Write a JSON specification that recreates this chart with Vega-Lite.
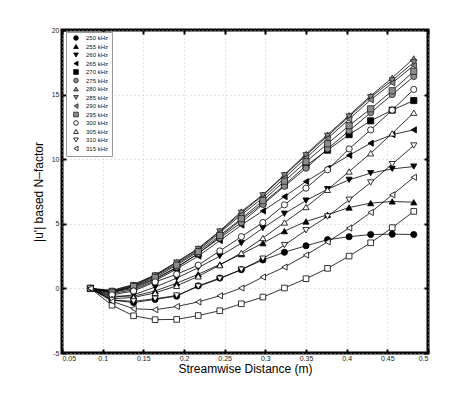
{
  "$schema": "https://vega.github.io/schema/vega-lite/v6.json",
  "width": 366,
  "height": 323,
  "autosize": {"type": "none"},
  "padding": {"left": 62, "top": 30, "right": 46, "bottom": 44},
  "background": "white",
  "config": {
    "font": "Liberation Sans",
    "view": {"stroke": "black", "strokeWidth": 3},
    "axis": {
      "grid": true,
      "gridColor": "#bbbbbb",
      "gridDash": [1, 3],
      "gridWidth": 0.8,
      "domain": false,
      "tickColor": "black",
      "tickWidth": 2,
      "tickSize": -4,
      "labelFontSize": 7,
      "labelColor": "#222",
      "titleFontWeight": "normal",
      "titleColor": "black"
    },
    "legend": {
      "labelFontSize": 6,
      "labelColor": "#111",
      "symbolSize": 22,
      "rowPadding": 0.5,
      "padding": 3,
      "strokeColor": "#999",
      "fillColor": "white",
      "labelOffset": 7,
      "symbolOffset": 4,
      "symbolStrokeWidth": 0.8
    }
  },
  "data": {
    "values": [
      {"f":"250 kHz","x":0.085,"y":0},{"f":"250 kHz","x":0.1115,"y":-0.9},{"f":"250 kHz","x":0.138,"y":-1.1},{"f":"250 kHz","x":0.1645,"y":-0.85},{"f":"250 kHz","x":0.191,"y":-0.6},{"f":"250 kHz","x":0.2175,"y":0.2},{"f":"250 kHz","x":0.244,"y":0.8},{"f":"250 kHz","x":0.2705,"y":1.45},{"f":"250 kHz","x":0.297,"y":2.2},{"f":"250 kHz","x":0.3235,"y":2.8},{"f":"250 kHz","x":0.35,"y":3.3},{"f":"250 kHz","x":0.3765,"y":3.77},{"f":"250 kHz","x":0.403,"y":4.0},{"f":"250 kHz","x":0.4295,"y":4.17},{"f":"250 kHz","x":0.456,"y":4.2},{"f":"250 kHz","x":0.4825,"y":4.17},
      {"f":"255 kHz","x":0.085,"y":0},{"f":"255 kHz","x":0.1115,"y":-0.6},{"f":"255 kHz","x":0.138,"y":-0.6},{"f":"255 kHz","x":0.1645,"y":-0.2},{"f":"255 kHz","x":0.191,"y":0.4},{"f":"255 kHz","x":0.2175,"y":1.1},{"f":"255 kHz","x":0.244,"y":1.85},{"f":"255 kHz","x":0.2705,"y":2.65},{"f":"255 kHz","x":0.297,"y":3.5},{"f":"255 kHz","x":0.3235,"y":4.43},{"f":"255 kHz","x":0.35,"y":5.18},{"f":"255 kHz","x":0.3765,"y":5.7},{"f":"255 kHz","x":0.403,"y":6.26},{"f":"255 kHz","x":0.4295,"y":6.6},{"f":"255 kHz","x":0.456,"y":6.73},{"f":"255 kHz","x":0.4825,"y":6.67},
      {"f":"260 kHz","x":0.085,"y":0},{"f":"260 kHz","x":0.1115,"y":-0.7},{"f":"260 kHz","x":0.138,"y":-0.5},{"f":"260 kHz","x":0.1645,"y":0.1},{"f":"260 kHz","x":0.191,"y":0.8},{"f":"260 kHz","x":0.2175,"y":1.6},{"f":"260 kHz","x":0.244,"y":2.5},{"f":"260 kHz","x":0.2705,"y":3.5},{"f":"260 kHz","x":0.297,"y":4.67},{"f":"260 kHz","x":0.3235,"y":5.78},{"f":"260 kHz","x":0.35,"y":6.8},{"f":"260 kHz","x":0.3765,"y":7.68},{"f":"260 kHz","x":0.403,"y":8.4},{"f":"260 kHz","x":0.4295,"y":8.92},{"f":"260 kHz","x":0.456,"y":9.25},{"f":"260 kHz","x":0.4825,"y":9.43},
      {"f":"265 kHz","x":0.085,"y":0},{"f":"265 kHz","x":0.1115,"y":-0.4},{"f":"265 kHz","x":0.138,"y":-0.1},{"f":"265 kHz","x":0.1645,"y":0.6},{"f":"265 kHz","x":0.191,"y":1.5},{"f":"265 kHz","x":0.2175,"y":2.5},{"f":"265 kHz","x":0.244,"y":3.7},{"f":"265 kHz","x":0.2705,"y":4.9},{"f":"265 kHz","x":0.297,"y":6.0},{"f":"265 kHz","x":0.3235,"y":7.1},{"f":"265 kHz","x":0.35,"y":8.27},{"f":"265 kHz","x":0.3765,"y":9.3},{"f":"265 kHz","x":0.403,"y":10.3},{"f":"265 kHz","x":0.4295,"y":11.24},{"f":"265 kHz","x":0.456,"y":11.9},{"f":"265 kHz","x":0.4825,"y":12.27},
      {"f":"270 kHz","x":0.085,"y":0},{"f":"270 kHz","x":0.1115,"y":-0.3},{"f":"270 kHz","x":0.138,"y":0.0},{"f":"270 kHz","x":0.1645,"y":0.7},{"f":"270 kHz","x":0.191,"y":1.6},{"f":"270 kHz","x":0.2175,"y":2.7},{"f":"270 kHz","x":0.244,"y":4.0},{"f":"270 kHz","x":0.2705,"y":5.3},{"f":"270 kHz","x":0.297,"y":6.6},{"f":"270 kHz","x":0.3235,"y":8.0},{"f":"270 kHz","x":0.35,"y":9.5},{"f":"270 kHz","x":0.3765,"y":10.7},{"f":"270 kHz","x":0.403,"y":11.9},{"f":"270 kHz","x":0.4295,"y":12.97},{"f":"270 kHz","x":0.456,"y":13.8},{"f":"270 kHz","x":0.4825,"y":14.54},
      {"f":"275 kHz","x":0.085,"y":0},{"f":"275 kHz","x":0.1115,"y":-0.3},{"f":"275 kHz","x":0.138,"y":0.1},{"f":"275 kHz","x":0.1645,"y":0.75},{"f":"275 kHz","x":0.191,"y":1.65},{"f":"275 kHz","x":0.2175,"y":2.7},{"f":"275 kHz","x":0.244,"y":3.9},{"f":"275 kHz","x":0.2705,"y":5.1},{"f":"275 kHz","x":0.297,"y":6.5},{"f":"275 kHz","x":0.3235,"y":7.9},{"f":"275 kHz","x":0.35,"y":9.3},{"f":"275 kHz","x":0.3765,"y":10.8},{"f":"275 kHz","x":0.403,"y":12.2},{"f":"275 kHz","x":0.4295,"y":13.6},{"f":"275 kHz","x":0.456,"y":15.0},{"f":"275 kHz","x":0.4825,"y":16.4},
      {"f":"280 kHz","x":0.085,"y":0},{"f":"280 kHz","x":0.1115,"y":-0.15},{"f":"280 kHz","x":0.138,"y":0.3},{"f":"280 kHz","x":0.1645,"y":1.05},{"f":"280 kHz","x":0.191,"y":2.05},{"f":"280 kHz","x":0.2175,"y":3.1},{"f":"280 kHz","x":0.244,"y":4.45},{"f":"280 kHz","x":0.2705,"y":5.95},{"f":"280 kHz","x":0.297,"y":7.25},{"f":"280 kHz","x":0.3235,"y":8.8},{"f":"280 kHz","x":0.35,"y":10.4},{"f":"280 kHz","x":0.3765,"y":11.9},{"f":"280 kHz","x":0.403,"y":13.4},{"f":"280 kHz","x":0.4295,"y":14.9},{"f":"280 kHz","x":0.456,"y":16.3},{"f":"280 kHz","x":0.4825,"y":17.8},
      {"f":"285 kHz","x":0.085,"y":0},{"f":"285 kHz","x":0.1115,"y":-0.2},{"f":"285 kHz","x":0.138,"y":0.25},{"f":"285 kHz","x":0.1645,"y":1.0},{"f":"285 kHz","x":0.191,"y":2.0},{"f":"285 kHz","x":0.2175,"y":3.05},{"f":"285 kHz","x":0.244,"y":4.4},{"f":"285 kHz","x":0.2705,"y":5.85},{"f":"285 kHz","x":0.297,"y":7.2},{"f":"285 kHz","x":0.3235,"y":8.75},{"f":"285 kHz","x":0.35,"y":10.3},{"f":"285 kHz","x":0.3765,"y":11.8},{"f":"285 kHz","x":0.403,"y":13.3},{"f":"285 kHz","x":0.4295,"y":14.8},{"f":"285 kHz","x":0.456,"y":16.1},{"f":"285 kHz","x":0.4825,"y":17.5},
      {"f":"290 kHz","x":0.085,"y":0},{"f":"290 kHz","x":0.1115,"y":-0.25},{"f":"290 kHz","x":0.138,"y":0.2},{"f":"290 kHz","x":0.1645,"y":0.95},{"f":"290 kHz","x":0.191,"y":1.9},{"f":"290 kHz","x":0.2175,"y":2.95},{"f":"290 kHz","x":0.244,"y":4.3},{"f":"290 kHz","x":0.2705,"y":5.7},{"f":"290 kHz","x":0.297,"y":7.0},{"f":"290 kHz","x":0.3235,"y":8.55},{"f":"290 kHz","x":0.35,"y":10.1},{"f":"290 kHz","x":0.3765,"y":11.6},{"f":"290 kHz","x":0.403,"y":13.1},{"f":"290 kHz","x":0.4295,"y":14.6},{"f":"290 kHz","x":0.456,"y":15.9},{"f":"290 kHz","x":0.4825,"y":17.25},
      {"f":"295 kHz","x":0.085,"y":0},{"f":"295 kHz","x":0.1115,"y":-0.3},{"f":"295 kHz","x":0.138,"y":0.15},{"f":"295 kHz","x":0.1645,"y":0.85},{"f":"295 kHz","x":0.191,"y":1.8},{"f":"295 kHz","x":0.2175,"y":2.85},{"f":"295 kHz","x":0.244,"y":4.1},{"f":"295 kHz","x":0.2705,"y":5.4},{"f":"295 kHz","x":0.297,"y":6.8},{"f":"295 kHz","x":0.3235,"y":8.3},{"f":"295 kHz","x":0.35,"y":9.8},{"f":"295 kHz","x":0.3765,"y":11.2},{"f":"295 kHz","x":0.403,"y":12.6},{"f":"295 kHz","x":0.4295,"y":13.9},{"f":"295 kHz","x":0.456,"y":15.3},{"f":"295 kHz","x":0.4825,"y":16.8},
      {"f":"300 kHz","x":0.085,"y":0},{"f":"300 kHz","x":0.1115,"y":-0.5},{"f":"300 kHz","x":0.138,"y":-0.2},{"f":"300 kHz","x":0.1645,"y":0.5},{"f":"300 kHz","x":0.191,"y":1.1},{"f":"300 kHz","x":0.2175,"y":1.8},{"f":"300 kHz","x":0.244,"y":2.9},{"f":"300 kHz","x":0.2705,"y":4.0},{"f":"300 kHz","x":0.297,"y":5.1},{"f":"300 kHz","x":0.3235,"y":6.47},{"f":"300 kHz","x":0.35,"y":7.76},{"f":"300 kHz","x":0.3765,"y":9.18},{"f":"300 kHz","x":0.403,"y":10.8},{"f":"300 kHz","x":0.4295,"y":12.27},{"f":"300 kHz","x":0.456,"y":13.8},{"f":"300 kHz","x":0.4825,"y":15.4},
      {"f":"305 kHz","x":0.085,"y":0},{"f":"305 kHz","x":0.1115,"y":-0.8},{"f":"305 kHz","x":0.138,"y":-0.7},{"f":"305 kHz","x":0.1645,"y":-0.35},{"f":"305 kHz","x":0.191,"y":0.2},{"f":"305 kHz","x":0.2175,"y":0.93},{"f":"305 kHz","x":0.244,"y":1.8},{"f":"305 kHz","x":0.2705,"y":2.75},{"f":"305 kHz","x":0.297,"y":3.9},{"f":"305 kHz","x":0.3235,"y":5.1},{"f":"305 kHz","x":0.35,"y":6.3},{"f":"305 kHz","x":0.3765,"y":7.63},{"f":"305 kHz","x":0.403,"y":9.05},{"f":"305 kHz","x":0.4295,"y":10.46},{"f":"305 kHz","x":0.456,"y":12.0},{"f":"305 kHz","x":0.4825,"y":13.6},
      {"f":"310 kHz","x":0.085,"y":0},{"f":"310 kHz","x":0.1115,"y":-0.9},{"f":"310 kHz","x":0.138,"y":-1.0},{"f":"310 kHz","x":0.1645,"y":-0.8},{"f":"310 kHz","x":0.191,"y":-0.55},{"f":"310 kHz","x":0.2175,"y":0.15},{"f":"310 kHz","x":0.244,"y":0.75},{"f":"310 kHz","x":0.2705,"y":1.45},{"f":"310 kHz","x":0.297,"y":2.3},{"f":"310 kHz","x":0.3235,"y":3.35},{"f":"310 kHz","x":0.35,"y":4.5},{"f":"310 kHz","x":0.3765,"y":5.57},{"f":"310 kHz","x":0.403,"y":6.86},{"f":"310 kHz","x":0.4295,"y":8.2},{"f":"310 kHz","x":0.456,"y":9.62},{"f":"310 kHz","x":0.4825,"y":11.06},
      {"f":"315 kHz","x":0.085,"y":0},{"f":"315 kHz","x":0.1115,"y":-1.0},{"f":"315 kHz","x":0.138,"y":-1.57},{"f":"315 kHz","x":0.1645,"y":-1.65},{"f":"315 kHz","x":0.191,"y":-1.4},{"f":"315 kHz","x":0.2175,"y":-1.05},{"f":"315 kHz","x":0.244,"y":-0.57},{"f":"315 kHz","x":0.2705,"y":0.03},{"f":"315 kHz","x":0.297,"y":0.88},{"f":"315 kHz","x":0.3235,"y":1.65},{"f":"315 kHz","x":0.35,"y":2.58},{"f":"315 kHz","x":0.3765,"y":3.6},{"f":"315 kHz","x":0.403,"y":4.67},{"f":"315 kHz","x":0.4295,"y":5.88},{"f":"315 kHz","x":0.456,"y":7.24},{"f":"315 kHz","x":0.4825,"y":8.6},
      {"f":"320 kHz","x":0.085,"y":0},{"f":"320 kHz","x":0.1115,"y":-1.3},{"f":"320 kHz","x":0.138,"y":-2.12},{"f":"320 kHz","x":0.1645,"y":-2.42},{"f":"320 kHz","x":0.191,"y":-2.4},{"f":"320 kHz","x":0.2175,"y":-2.1},{"f":"320 kHz","x":0.244,"y":-1.73},{"f":"320 kHz","x":0.2705,"y":-1.19},{"f":"320 kHz","x":0.297,"y":-0.67},{"f":"320 kHz","x":0.3235,"y":0.03},{"f":"320 kHz","x":0.35,"y":0.75},{"f":"320 kHz","x":0.3765,"y":1.55},{"f":"320 kHz","x":0.403,"y":2.5},{"f":"320 kHz","x":0.4295,"y":3.53},{"f":"320 kHz","x":0.456,"y":4.7},{"f":"320 kHz","x":0.4825,"y":5.96}
    ]
  },
  "layer": [
    {
      "mark": {"type": "line", "color": "black", "strokeWidth": 0.8},
      "encoding": {
        "x": {"field": "x", "type": "quantitative", "scale": {"domain": [0.05, 0.5], "nice": false},
          "axis": {"orient": "bottom", "values": [0.05,0.1,0.15,0.2,0.25,0.3,0.35,0.4,0.45,0.5], "format": "~g", "labelPadding": 5, "title": "Streamwise Distance (m)", "titleFontSize": 12, "titlePadding": 2}},
        "y": {"field": "y", "type": "quantitative", "scale": {"domain": [-5, 20], "nice": false},
          "axis": {"orient": "left", "values": [-5,0,5,10,15,20], "labelExpr": "datum.value < 0 ? '-' + abs(datum.value) : '' + datum.value", "labelPadding": 7, "title": "|u'| based N\u2013factor", "titleFontSize": 12, "titlePadding": 6}},
        "detail": {"field": "f"}
      }
    },
    {
      "transform": [{"filter": "datum.f == '320 kHz'"}],
      "mark": {"type": "point", "shape": "square", "filled": true, "fill": "white", "stroke": "black", "strokeWidth": 0.8, "size": 32, "opacity": 1},
      "encoding": {
        "x": {"field": "x", "type": "quantitative", "axis": {"orient": "top", "values": [0.05,0.1,0.15,0.2,0.25,0.3,0.35,0.4,0.45,0.5], "labels": false, "title": null, "grid": false}},
        "y": {"field": "y", "type": "quantitative", "axis": {"orient": "right", "values": [-5,0,5,10,15,20], "labels": false, "title": null, "grid": false}}
      }
    },
    {
      "transform": [{"filter": "datum.f != '320 kHz'"}],
      "mark": {"type": "point", "filled": true, "strokeWidth": 0.8, "size": 38, "opacity": 1},
      "encoding": {
        "x": {"field": "x", "type": "quantitative", "axis": null},
        "y": {"field": "y", "type": "quantitative", "axis": null},
        "shape": {"field": "f", "type": "nominal",
          "scale": {"domain": ["250 kHz","255 kHz","260 kHz","265 kHz","270 kHz","275 kHz","280 kHz","285 kHz","290 kHz","295 kHz","300 kHz","305 kHz","310 kHz","315 kHz"],
            "range": ["circle","triangle-up","triangle-down","triangle-left","square","circle","triangle-up","triangle-down","triangle-left","square","circle","triangle-up","triangle-down","triangle-left"]},
          "legend": {"title": null, "orient": "none", "legendX": 4, "legendY": 2}},
        "fill": {"field": "f", "type": "nominal",
          "scale": {"domain": ["250 kHz","255 kHz","260 kHz","265 kHz","270 kHz","275 kHz","280 kHz","285 kHz","290 kHz","295 kHz","300 kHz","305 kHz","310 kHz","315 kHz"],
            "range": ["black","black","black","black","black","#8c8c8c","#8c8c8c","#8c8c8c","#8c8c8c","#8c8c8c","white","white","white","white"]},
          "legend": {"title": null, "orient": "none", "legendX": 4, "legendY": 2}},
        "stroke": {"field": "f", "type": "nominal",
          "scale": {"domain": ["250 kHz","255 kHz","260 kHz","265 kHz","270 kHz","275 kHz","280 kHz","285 kHz","290 kHz","295 kHz","300 kHz","305 kHz","310 kHz","315 kHz"],
            "range": ["black","black","black","black","black","#222","#222","#222","#222","#222","black","black","black","black"]},
          "legend": {"title": null, "orient": "none", "legendX": 4, "legendY": 2}}
      }
    }
  ],
  "resolve": {"axis": {"x": "independent", "y": "independent"}}
}
